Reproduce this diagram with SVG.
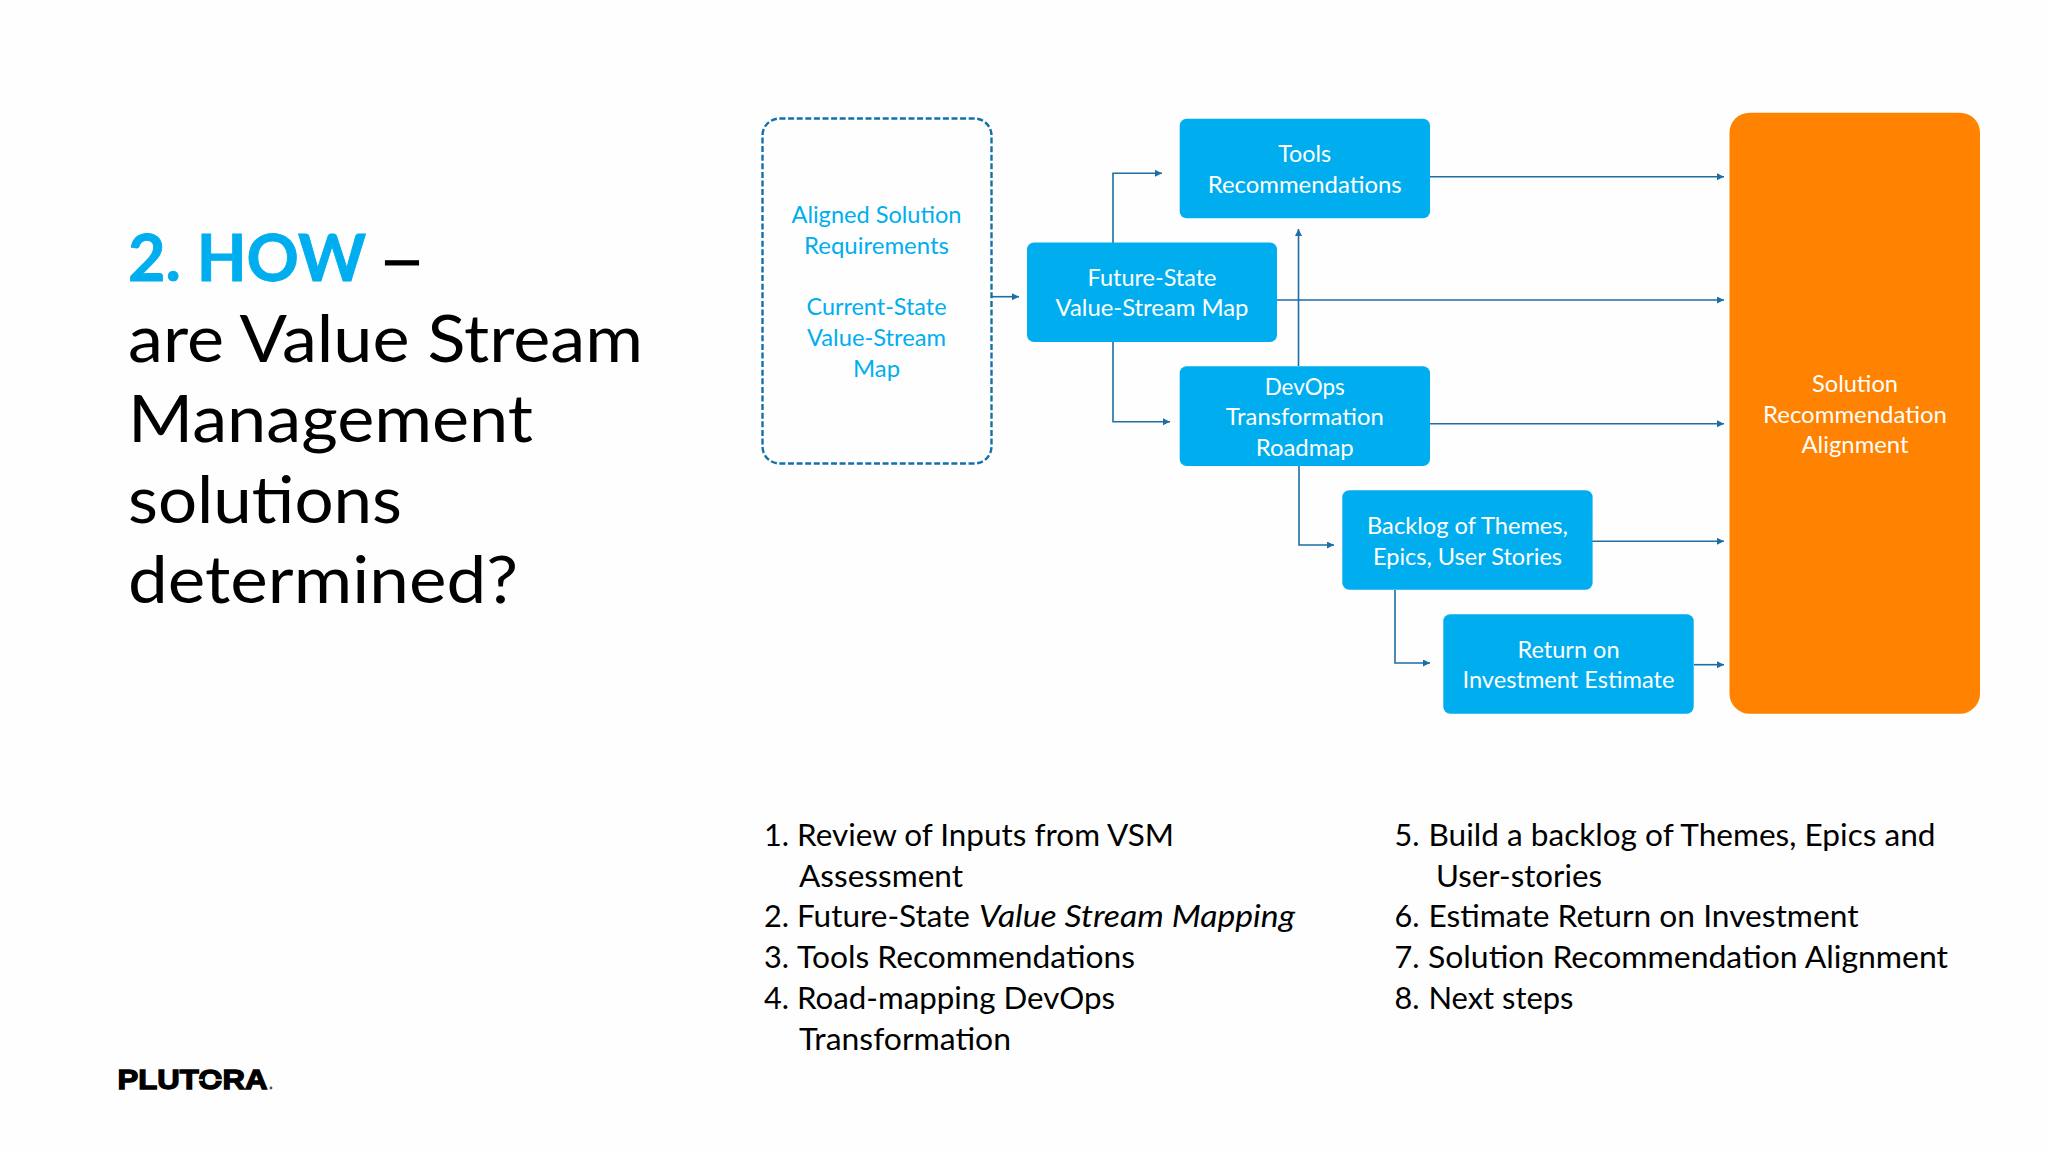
<svg xmlns="http://www.w3.org/2000/svg" width="2048" height="1152" viewBox="0 0 2048 1152">
<style>
text{font-family:"Lato","Open Sans","Liberation Sans",sans-serif;}
.t{font-size:65px;fill:#000;}
.h{font-size:65px;fill:#00aeef;font-weight:700;stroke:#00aeef;stroke-width:0.9;}
.n{font-size:23.2px;fill:#fff;text-anchor:middle;}
.c{font-size:23.2px;fill:#00aeef;text-anchor:middle;}
.l{font-size:30px;fill:#000;}
.i{font-style:italic;}
.b{fill:#00aeef;}
.e{fill:none;stroke:#1c6ea4;stroke-width:1.6;marker-end:url(#a);}
</style>
<defs><marker id="a" markerUnits="userSpaceOnUse" markerWidth="8" markerHeight="8" refX="7" refY="3.5" orient="auto"><path d="M0 0L7 3.5L0 7Z" fill="#1c6ea4"/></marker></defs>
<rect width="2048" height="1152" fill="#fefefe"/>
<g id="title">
<text class="h" x="128" y="280.500" textLength="238" lengthAdjust="spacingAndGlyphs">2. HOW</text>
<text class="t" x="378" y="282" textLength="48" lengthAdjust="spacingAndGlyphs" stroke="#000" stroke-width="0.8">–</text>
<text class="t" x="128" y="361.500" textLength="515" lengthAdjust="spacingAndGlyphs">are Value Stream</text>
<text class="t" x="128" y="441.500" textLength="405" lengthAdjust="spacingAndGlyphs">Management</text>
<text class="t" x="128" y="522.500" textLength="274" lengthAdjust="spacingAndGlyphs">solutions</text>
<text class="t" x="128" y="603" textLength="390" lengthAdjust="spacingAndGlyphs">determined?</text>
</g>
<g id="connectors">
<path class="e" d="M991.500 296.700H1019"/>
<path class="e" d="M1113 243V173.300H1162"/>
<path class="e" d="M1113 342V421.800H1170"/>
<path class="e" d="M1298.500 366V229"/>
<path class="e" d="M1277 300H1724"/>
<path class="e" d="M1430 176.700H1724"/>
<path class="e" d="M1430 423.800H1724"/>
<path class="e" d="M1592 541.300H1724"/>
<path class="e" d="M1694 664.700H1724"/>
<path class="e" d="M1299 466V545H1334"/>
<path class="e" d="M1395 590V663H1430"/>
</g>
<g id="inputs">
<rect x="762.500" y="118.500" width="229" height="345" rx="17" fill="none" stroke="#1570a8" stroke-width="2.400" stroke-dasharray="6 2.600"/>
<text class="c" x="876.500" y="223.200" textLength="170" lengthAdjust="spacingAndGlyphs">Aligned Solution</text>
<text class="c" x="876.500" y="253.800" textLength="145" lengthAdjust="spacingAndGlyphs">Requirements</text>
<text class="c" x="876.500" y="315.200" textLength="140" lengthAdjust="spacingAndGlyphs">Current-State</text>
<text class="c" x="876.500" y="346.200" textLength="139" lengthAdjust="spacingAndGlyphs">Value-Stream</text>
<text class="c" x="876.500" y="376.800" textLength="47" lengthAdjust="spacingAndGlyphs">Map</text>
</g>
<g id="tools">
<rect class="b" x="1179.700" y="118.700" width="250.300" height="99.500" rx="7"/>
<text class="n" x="1304.700" y="162" textLength="53" lengthAdjust="spacingAndGlyphs">Tools</text>
<text class="n" x="1304.700" y="192.800" textLength="194" lengthAdjust="spacingAndGlyphs">Recommendations</text>
</g>
<g id="future-state">
<rect class="b" x="1027" y="242.400" width="250" height="99.700" rx="7"/>
<text class="n" x="1152" y="286" textLength="129" lengthAdjust="spacingAndGlyphs">Future-State</text>
<text class="n" x="1152" y="316.400" textLength="193" lengthAdjust="spacingAndGlyphs">Value-Stream Map</text>
</g>
<g id="devops">
<rect class="b" x="1179.700" y="366.300" width="250.300" height="99.700" rx="7"/>
<text class="n" x="1304.700" y="394.500" textLength="80" lengthAdjust="spacingAndGlyphs">DevOps</text>
<text class="n" x="1304.700" y="425" textLength="158" lengthAdjust="spacingAndGlyphs">Transformation</text>
<text class="n" x="1304.700" y="455.800" textLength="98" lengthAdjust="spacingAndGlyphs">Roadmap</text>
</g>
<g id="backlog">
<rect class="b" x="1342.300" y="490.300" width="250.300" height="99.500" rx="7"/>
<text class="n" x="1467.500" y="533.800" textLength="201" lengthAdjust="spacingAndGlyphs">Backlog of Themes,</text>
<text class="n" x="1467.500" y="564.500" textLength="189" lengthAdjust="spacingAndGlyphs">Epics, User Stories</text>
</g>
<g id="roi">
<rect class="b" x="1443.300" y="614.300" width="250.400" height="99.500" rx="7"/>
<text class="n" x="1568.500" y="657.900" textLength="102" lengthAdjust="spacingAndGlyphs">Return on</text>
<text class="n" x="1568.500" y="688.300" textLength="212" lengthAdjust="spacingAndGlyphs">Investment Estimate</text>
</g>
<g id="alignment">
<rect x="1729.500" y="112.700" width="250.500" height="601" rx="20" fill="#ff8200"/>
<text class="n" x="1855" y="392" textLength="86" lengthAdjust="spacingAndGlyphs">Solution</text>
<text class="n" x="1855" y="422.500" textLength="184" lengthAdjust="spacingAndGlyphs">Recommendation</text>
<text class="n" x="1855" y="453.300" textLength="107" lengthAdjust="spacingAndGlyphs">Alignment</text>
</g>
<g id="steps-left">
<text class="l" x="764" y="845.500" textLength="25" lengthAdjust="spacingAndGlyphs">1.</text>
<text class="l" x="797" y="845.500" textLength="377" lengthAdjust="spacingAndGlyphs">Review of Inputs from VSM</text>
<text class="l" x="799" y="886.500" textLength="164" lengthAdjust="spacingAndGlyphs">Assessment</text>
<text class="l" x="764" y="927.200" textLength="25" lengthAdjust="spacingAndGlyphs">2.</text>
<text class="l" x="797" y="927.200" textLength="173" lengthAdjust="spacingAndGlyphs">Future-State</text>
<text class="l i" x="979" y="927.200" textLength="316" lengthAdjust="spacingAndGlyphs">Value Stream Mapping</text>
<text class="l" x="764" y="968.200" textLength="25" lengthAdjust="spacingAndGlyphs">3.</text>
<text class="l" x="797" y="968.200" textLength="338" lengthAdjust="spacingAndGlyphs">Tools Recommendations</text>
<text class="l" x="764" y="1009.200" textLength="25" lengthAdjust="spacingAndGlyphs">4.</text>
<text class="l" x="797" y="1009.200" textLength="318" lengthAdjust="spacingAndGlyphs">Road-mapping DevOps</text>
<text class="l" x="799" y="1050.200" textLength="212" lengthAdjust="spacingAndGlyphs">Transformation</text>
</g>
<g id="steps-right">
<text class="l" x="1394.500" y="845.500" textLength="25" lengthAdjust="spacingAndGlyphs">5.</text>
<text class="l" x="1428.500" y="845.500" textLength="507" lengthAdjust="spacingAndGlyphs">Build a backlog of Themes, Epics and</text>
<text class="l" x="1436" y="886.500" textLength="166" lengthAdjust="spacingAndGlyphs">User-stories</text>
<text class="l" x="1394.500" y="927.200" textLength="25" lengthAdjust="spacingAndGlyphs">6.</text>
<text class="l" x="1428.500" y="927.200" textLength="430" lengthAdjust="spacingAndGlyphs">Estimate Return on Investment</text>
<text class="l" x="1394.500" y="968.200" textLength="25" lengthAdjust="spacingAndGlyphs">7.</text>
<text class="l" x="1428" y="968.200" textLength="520" lengthAdjust="spacingAndGlyphs">Solution Recommendation Alignment</text>
<text class="l" x="1394.500" y="1009.200" textLength="25" lengthAdjust="spacingAndGlyphs">8.</text>
<text class="l" x="1428.500" y="1009.200" textLength="145" lengthAdjust="spacingAndGlyphs">Next steps</text>
</g>
<g id="logo">
<text x="117.500" y="1089.200" font-size="28" font-weight="700" fill="#000" stroke="#000" stroke-width="1.300" textLength="150" lengthAdjust="spacingAndGlyphs" style="font-family:'Liberation Sans',sans-serif">PLUTORA</text>
<path d="M197 1080H203M216 1080H222" stroke="#fff" stroke-width="1.600"/>
<circle cx="271" cy="1088" r="1.400" fill="#555"/>
</g>
</svg>
